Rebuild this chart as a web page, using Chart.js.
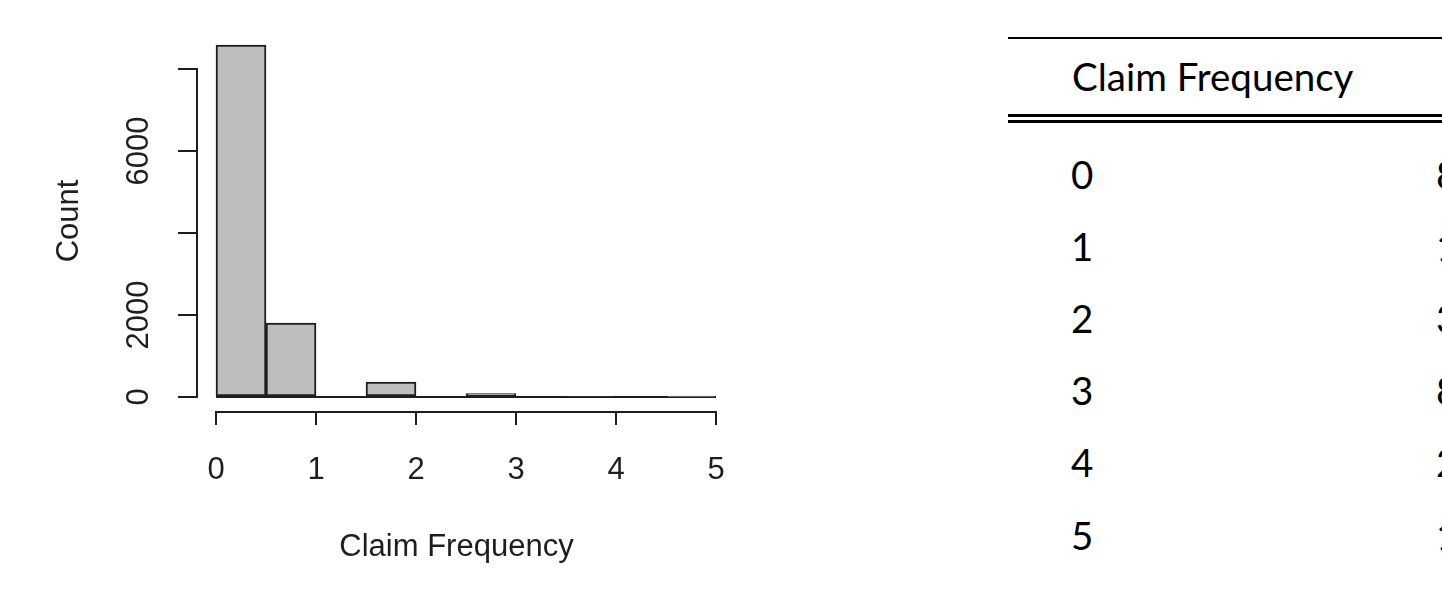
<!DOCTYPE html>
<html>
<head>
<meta charset="utf-8">
<script src="https://cdn.jsdelivr.net/npm/chart.js@4.4.1/dist/chart.umd.min.js"></script>
<style>
  html, body { margin: 0; padding: 0; background: #fff; width: 1442px; height: 604px; overflow: hidden; }
  #wrap { position: relative; width: 1442px; height: 604px; overflow: hidden; }
  #chartBox { position: absolute; left: 0; top: 0; width: 800px; height: 604px; }
  .tline { position: absolute; left: 1008px; width: 460px; background: #000; }
  .tcell { position: absolute; font-family: Lato, "Open Sans", sans-serif; font-size: 38.5px; line-height: 47px; height: 47px; color: #000; white-space: nowrap; }
</style>
</head>
<body>
<div id="wrap">
  <div id="chartBox"><canvas id="c" width="800" height="604"></canvas></div>
  <div id="table"></div>
</div>
<script>
// ---- data ----
const claimValues = [0, 1, 2, 3, 4, 5];               // claim frequency categories
const claimCounts = [8585, 1805, 366, 83, 22, 1];      // number of policies per category
const binEdges = [0, 0.5, 1, 1.5, 2, 2.5, 3, 3.5, 4, 4.5, 5]; // histogram breaks
const xTickValues = [0, 1, 2, 3, 4, 5];
const xTickLabels = ['0', '1', '2', '3', '4', '5'];
const yTickValues = [0, 2000, 4000, 6000, 8000];
const yTickLabels = ['0', '2000', '', '6000', ''];     // R drops overlapping labels
const xTitle = 'Claim Frequency';
const yTitle = 'Count';
const tableHeader = 'Claim Frequency';

// histogram bins (R right-closed bins, first bin includes its left edge)
const bins = [];
for (let i = 0; i < binEdges.length - 1; i++) {
  const lo = binEdges[i], hi = binEdges[i + 1];
  let n = 0;
  claimValues.forEach((v, k) => {
    if ((i === 0 ? v >= lo : v > lo) && v <= hi) n += claimCounts[k];
  });
  bins.push({ x: (lo + hi) / 2, y: n });
}

const INK = '#1e1e1e';
const FONT = "'Liberation Sans', Arial, sans-serif";
const FSIZE = 31;

const axisLines = {
  id: 'axisLines',
  afterDraw(chart) {
    const { ctx } = chart;
    const xs = chart.scales.x, ys = chart.scales.y;
    ctx.save();
    ctx.strokeStyle = INK;
    ctx.lineWidth = 2;
    ctx.beginPath();
    const yb = Math.round(xs.top);
    ctx.moveTo(xs.getPixelForValue(xTickValues[0]) - 1, yb);
    ctx.lineTo(xs.getPixelForValue(xTickValues[xTickValues.length - 1]) + 1, yb);
    const xr = Math.round(ys.right);
    ctx.moveTo(xr, ys.getPixelForValue(yTickValues[0]) + 1);
    ctx.lineTo(xr, ys.getPixelForValue(yTickValues[yTickValues.length - 1]) - 1);
    ctx.stroke();
    ctx.restore();
  }
};

new Chart(document.getElementById('c'), {
  type: 'bar',
  data: {
    datasets: [
      {
        type: 'bar',
        data: bins,
        backgroundColor: '#bebebe',
        borderColor: INK,
        borderWidth: 2,
        borderSkipped: false,
        barPercentage: 1,
        categoryPercentage: 1,
        order: 1
      },
      {
        type: 'line',
        data: [{ x: binEdges[0], y: 0 }, { x: binEdges[binEdges.length - 1], y: 0 }],
        borderColor: INK,
        borderWidth: 2,
        pointRadius: 0,
        order: 2
      }
    ]
  },
  options: {
    responsive: false,
    animation: false,
    devicePixelRatio: 1,
    layout: { padding: { left: 0, top: 30, right: 84, bottom: 0 } },
    plugins: { legend: { display: false }, tooltip: { enabled: false } },
    scales: {
      x: {
        type: 'linear',
        min: -0.19,
        max: 5,
        offset: false,
        afterBuildTicks: s => { s.ticks = xTickValues.map(v => ({ value: v })); },
        afterFit: s => { s.height = 192; },
        grid: { display: true, drawOnChartArea: false, drawTicks: true, tickLength: 13, color: INK, lineWidth: 2, offset: false },
        border: { display: false },
        ticks: {
          autoSkip: false, maxRotation: 0, minRotation: 0, padding: 27,
          color: INK, font: { family: FONT, size: FSIZE },
          callback: (v, i) => xTickLabels[i]
        },
        title: { display: true, text: xTitle, color: INK, font: { family: FONT, size: FSIZE }, padding: { top: 0, bottom: 38 } }
      },
      y: {
        type: 'linear',
        min: -366,
        max: 8951,
        afterBuildTicks: s => { s.ticks = yTickValues.map(v => ({ value: v })); },
        afterFit: s => { s.width = 197; },
        grid: { display: true, drawOnChartArea: false, drawTicks: true, tickLength: 19, color: INK, lineWidth: 2 },
        border: { display: false },
        ticks: {
          autoSkip: false, minRotation: 90, maxRotation: 90, crossAlign: 'center', padding: 4,
          color: INK, font: { family: FONT, size: FSIZE },
          callback: (v, i) => yTickLabels[i]
        },
        title: { display: true, text: yTitle, color: INK, font: { family: FONT, size: FSIZE }, padding: { top: 51, bottom: 0 } }
      }
    }
  },
  plugins: [axisLines]
});

// ---- table on the right ----
const tbl = document.getElementById('table');
function addLine(top, h) {
  const d = document.createElement('div');
  d.className = 'tline';
  d.style.top = top + 'px';
  d.style.height = h + 'px';
  tbl.appendChild(d);
}
function addCell(text, left, centerY) {
  const d = document.createElement('div');
  d.className = 'tcell';
  d.textContent = text;
  d.style.left = left + 'px';
  d.style.top = (centerY - 24.5) + 'px';
  tbl.appendChild(d);
}
addLine(37, 2);
addLine(114, 3);
addLine(120, 3);
addCell(tableHeader, 1072, 77);
claimValues.forEach((v, i) => {
  const cy = 175 + i * 72.2;
  addCell(String(v), 1071, cy);
  addCell(String(claimCounts[i]), 1436, cy);
});
</script>
</body>
</html>
